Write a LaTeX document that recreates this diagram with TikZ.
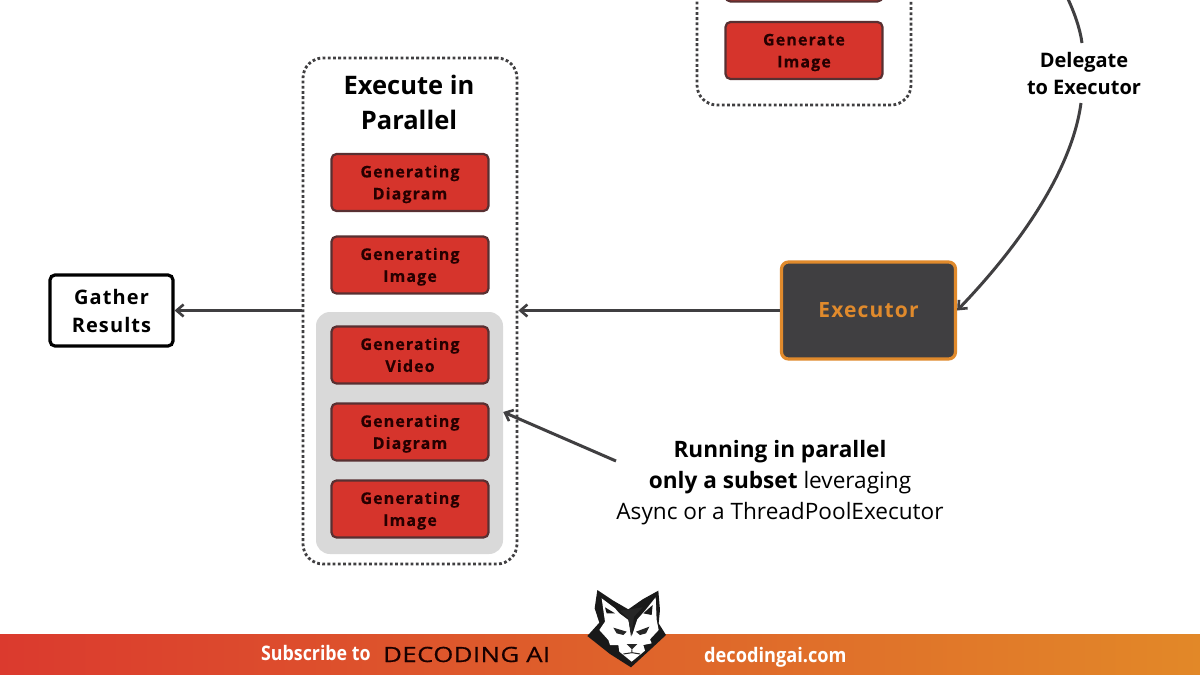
\documentclass[tikz,border=0pt]{standalone}
\usepackage{fontspec}
\setmainfont{Open Sans}
\usetikzlibrary{arrows.meta,shadings}
\newcommand\topstrut{\rule{0pt}{18.4pt}}
\definecolor{redbox}{RGB}{214,52,44}
\definecolor{redline}{RGB}{88,48,50}
\definecolor{darkline}{RGB}{64,63,65}
\definecolor{orangeb}{RGB}{224,138,44}
\definecolor{graybg}{RGB}{217,217,217}
\definecolor{barl}{RGB}{219,58,46}
\definecolor{barr}{RGB}{226,136,40}
\tikzset{
 x=1pt,y=-1pt,
 conn/.style={draw=darkline,line width=3pt,-{Straight Barb[length=7pt,width=12pt,line width=2.6pt]}},
 redtask/.style={draw=redline,line width=2.2pt,fill=redbox,rounded corners=5pt,minimum width=157pt,minimum height=57pt,inner sep=0pt,align=center,font=\fontsize{16}{22}\selectfont\bfseries\addfontfeatures{LetterSpace=7,FakeBold=0.25},text=black!85!red},
 dotbox/.style={draw=darkline,line width=2.8pt,dash pattern=on 2.8pt off 2.4pt,rounded corners=20pt},
 lab/.style={align=center,inner sep=0pt},
}
\begin{document}
\begin{tikzpicture}
\useasboundingbox (0,0) rectangle (1200,675);
\fill[white] (0,0) rectangle (1200,675);
% dotted containers
\node[dotbox,minimum width=214pt,minimum height=506pt,inner sep=0pt] (par) at (410,311) {};
\draw[dotbox] (697,-40) -- (697,105) -- (911,105) -- (911,-40);
\node[fill=graybg,rounded corners=14pt,minimum width=187pt,minimum height=242pt,inner sep=0pt] (sub) at (409.5,433) {};
\node[lab,font=\fontsize{25.5}{35}\selectfont\bfseries] (title) at (409,102) {Execute in\\Parallel};
% tasks left
\node[redtask] (t1) at (410,182.5) {\topstrut Generating\\\strut Diagram};
\node[redtask] (t2) at (410,265) {\topstrut Generating\\\strut Image};
\node[redtask] (t3) at (410,355) {\topstrut Generating\\\strut Video};
\node[redtask] (t4) at (410,432) {\topstrut Generating\\\strut Diagram};
\node[redtask] (t5) at (410,509) {\topstrut Generating\\\strut Image};
% tasks top
\node[redtask] (u1) at (804,-27) {};
\node[redtask] (u2) at (804,50.5) {\topstrut Generate\\\strut Image};
% gather
\node[draw=black,line width=3.2pt,rounded corners=5pt,minimum width=123pt,minimum height=71pt,inner sep=0pt,align=center,font=\fontsize{20}{28}\selectfont\bfseries\addfontfeatures{LetterSpace=5.5}] (gather) at (111.5,310.5) {Gather\\Results};
% executor
\node[draw=orangeb,fill=darkline,line width=3.2pt,rounded corners=7pt,minimum width=174pt,minimum height=97pt,inner sep=0pt,text=orangeb,font=\fontsize{21}{26}\selectfont\bfseries\addfontfeatures{LetterSpace=5.5}] (exec) at (868.5,310.5) {\raisebox{-1.2pt}{Executor}};
% connectors
\draw[conn] (exec.west) -- (par.east |- exec.west);
\draw[conn] (par.west |- gather.east) -- (gather.east);
\node[lab,font=\fontsize{20}{27}\selectfont\bfseries] (deleg) at (1084,73.5) {Delegate\\to Executor};
\coordinate (ctop) at (1068,-1);
\coordinate (cmid) at (1082,43);
\coordinate (cmidb) at (1081,103);
\draw[draw=darkline,line width=3pt] (ctop) .. controls (1074,12) and (1080,28) .. (cmid);
\draw[conn] (cmidb) .. controls (1072,170) and (1020,245) .. (exec.east);
% note
\node[lab,font=\fontsize{22.6}{31}\selectfont] (note) at (780,483) {\textbf{Running in parallel}\\\textbf{only a subset} leveraging\\Async or a ThreadPoolExecutor};
\coordinate (nstart) at (616,461);
\draw[conn] (nstart) -- (sub.east |- 0,412);
% bottom bar
\node[left color=barl,right color=barr,minimum width=1200pt,minimum height=41pt,inner sep=0pt,draw=none] (bar) at (600,654.5) {};
\node[lab,text=white,font=\fontsize{20}{24}\selectfont\bfseries,anchor=base west,xscale=.89] (sub1) at (261,660) {Subscribe to};
\node[lab,text=black!90!red,font=\fontsize{21}{24}\selectfont\addfontfeatures{LetterSpace=2,FakeBold=0.6},anchor=base west,xscale=1.22] (brand) at (383,662) {DECODING AI};
\node[lab,text=white,font=\fontsize{20}{24}\selectfont\bfseries,anchor=base west,xscale=.91] (url) at (704,662) {decodingai.com};
% logo
\begin{scope}[shift={(560,580)},x=.3333pt,y=-.3333pt]
\fill[black!90] (112,30) -- (160,62) -- (205,88) -- (248,58) -- (295,32) -- (300,90) -- (296,130) -- (318,165) -- (275,205) -- (213,262) -- (150,222) -- (82,168) -- (118,128) -- (104,85) -- cycle;
\fill[white] (125,55) -- (165,85) -- (178,100) -- (205,120) -- (215,170) -- (232,118) -- (255,92) -- (287,52) -- (290,120) -- (296,150) -- (270,178) -- (275,190) -- (250,195) -- (255,212) -- (215,245) -- (178,215) -- (175,195) -- (150,195) -- (145,180) -- (118,150) -- (135,125) -- cycle;
\fill[black!90] (135,82) -- (165,100) -- (140,100) -- cycle (278,75) -- (250,100) -- (275,105) -- cycle;
\fill[black!85] (180,92) -- (248,82) -- (222,110) -- (213,170) -- (205,115) -- cycle;
\fill[black!85] (160,143) -- (200,155) -- (190,165) -- (170,160) -- cycle (268,140) -- (228,155) -- (240,165) -- (258,160) -- cycle;
\fill[black!85] (200,192) -- (232,192) -- (216,208) -- cycle;
\draw[black!85,line width=1pt] (216,208) -- (216,218) (190,222) -- (216,218) -- (240,222);
\end{scope}
\end{tikzpicture}
\end{document}
